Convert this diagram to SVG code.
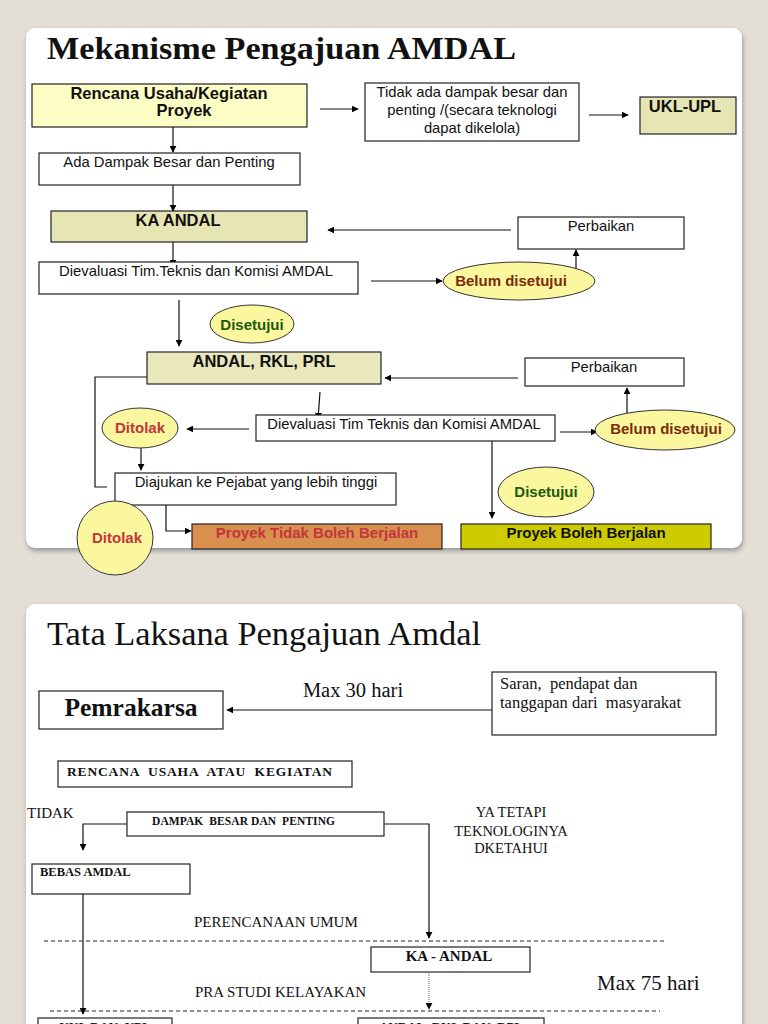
<svg xmlns="http://www.w3.org/2000/svg" width="768" height="1024" viewBox="0 0 768 1024">
<defs>
<marker id="ah" viewBox="0 0 10 10" refX="9" refY="5" markerWidth="7" markerHeight="7" orient="auto" markerUnits="userSpaceOnUse"><path d="M0,0 L10,5 L0,10 Z" fill="#000"/></marker>
<filter id="sh" x="-5%" y="-5%" width="110%" height="110%"><feGaussianBlur stdDeviation="2.5"/></filter>
<style>
.bx{stroke:#222;stroke-width:1.2;fill:#fff}
.yl{fill:#fdfdc6}
.kh{fill:#e6e6b4}
.el{fill:#faf79e;stroke:#333;stroke-width:1}
.ln{stroke:#111;stroke-width:1.2;fill:none}
.ar{stroke:#111;stroke-width:1.2;fill:none;marker-end:url(#ah)}
.s{font-family:"Liberation Sans",Arial,sans-serif;font-size:14.8px;fill:#111}
.sb{font-family:"Liberation Sans",Arial,sans-serif;font-size:16.5px;font-weight:bold;fill:#111}
.eb{font-family:"Liberation Sans",Arial,sans-serif;font-size:15px;font-weight:bold}
.r{font-family:"Liberation Serif","Times New Roman",serif;fill:#111;white-space:pre}
.rb{font-family:"Liberation Serif","Times New Roman",serif;font-weight:bold;fill:#111;white-space:pre}
.c{text-anchor:middle}
.dash{stroke:#222;stroke-width:1;stroke-dasharray:4,3;fill:none}
</style>
</defs>
<rect width="768" height="1024" fill="#e3dfd6"/>
<!-- panels -->
<rect x="27" y="31" width="716" height="520" rx="9" fill="#999" filter="url(#sh)"/>
<rect x="26" y="28" width="716" height="520" rx="9" fill="#fff"/>
<rect x="27" y="607" width="716" height="430" rx="9" fill="#999" filter="url(#sh)"/>
<rect x="26" y="604" width="716" height="430" rx="9" fill="#fff"/>

<text x="47" y="59" class="rb" font-size="32" textLength="469" lengthAdjust="spacingAndGlyphs">Mekanisme Pengajuan AMDAL</text>

<g id="connectors-top">
<line x1="173" y1="127" x2="173" y2="152" class="ar"/>
<line x1="320" y1="109" x2="358" y2="109" class="ar"/>
<line x1="589" y1="115" x2="628" y2="115" class="ar"/>
<line x1="173" y1="185" x2="173" y2="211" class="ar"/>
<line x1="173" y1="242" x2="173" y2="266" class="ar"/>
<line x1="511" y1="230" x2="328" y2="230" class="ar"/>
<line x1="371" y1="281" x2="442" y2="281" class="ar"/>
<line x1="576" y1="276" x2="576" y2="250" class="ar"/>
<line x1="179" y1="300" x2="179" y2="346" class="ar"/>
<line x1="518" y1="378" x2="385" y2="378" class="ar"/>
<line x1="320" y1="392" x2="318" y2="419" class="ar"/>
<line x1="249" y1="429" x2="187" y2="429" class="ar"/>
<line x1="141" y1="448" x2="141" y2="470" class="ar"/>
<polyline points="107,487 95,487 95,377 155,377" class="ar"/>
<polyline points="166,505 166,531 191,531" class="ar"/>
<line x1="560" y1="432" x2="597" y2="432" class="ar"/>
<line x1="627" y1="414" x2="627" y2="388" class="ar"/>
<line x1="492" y1="441" x2="492" y2="518" class="ar"/>
</g>

<g id="n-rencana"><rect x="32" y="84" width="275" height="43" class="bx yl"/><text x="169" y="99" class="sb c">Rencana Usaha/Kegiatan</text><text x="184" y="116" class="sb c">Proyek</text></g>
<g id="n-tidak"><rect x="365" y="83" width="214" height="58" class="bx"/><text x="472" y="97" class="s c">Tidak ada dampak besar dan</text><text x="472" y="115" class="s c">penting /(secara teknologi</text><text x="472" y="133" class="s c">dapat dikelola)</text></g>
<g id="n-ukl"><rect x="640" y="97" width="96" height="37" class="bx kh"/><text x="685" y="112" class="sb c" font-size="18">UKL-UPL</text></g>
<g id="n-ada"><rect x="39" y="153" width="261" height="32" class="bx"/><text x="169" y="167" class="s c">Ada Dampak Besar dan Penting</text></g>
<g id="n-ka"><rect x="51" y="211" width="256" height="31" class="bx kh"/><text x="178" y="226" class="sb c">KA ANDAL</text></g>
<g id="n-eval1"><rect x="39" y="262" width="319" height="32" class="bx"/><text x="196" y="276" class="s c">Dievaluasi Tim.Teknis dan Komisi AMDAL</text></g>
<g id="n-perb1"><rect x="518" y="217" width="166" height="32" class="bx"/><text x="601" y="231" class="s c">Perbaikan</text></g>
<g id="n-belum1"><ellipse cx="519" cy="281" rx="76" ry="19" class="el"/><text x="511" y="286" class="eb c" fill="#7a2a0c">Belum disetujui</text></g>
<g id="n-dis1"><ellipse cx="252" cy="324" rx="42" ry="19" class="el"/><text x="252" y="330" class="eb c" fill="#1d5a10">Disetujui</text></g>
<g id="n-andal"><rect x="147" y="352" width="234" height="32" class="bx" style="fill:#e8e8bc"/><text x="264" y="367" class="sb c">ANDAL, RKL, PRL</text></g>
<g id="n-perb2"><rect x="525" y="358" width="159" height="28" class="bx"/><text x="604" y="372" class="s c">Perbaikan</text></g>
<g id="n-eval2"><rect x="256" y="415" width="299" height="26" class="bx"/><text x="404" y="429" class="s c">Dievaluasi Tim Teknis dan Komisi AMDAL</text></g>
<g id="n-ditolak1"><ellipse cx="140" cy="428" rx="38" ry="20" class="el"/><text x="140" y="433" class="eb c" fill="#c2353d">Ditolak</text></g>
<g id="n-belum2"><ellipse cx="665" cy="430" rx="70" ry="20" class="el"/><text x="666" y="434" class="eb c" fill="#7a2a0c">Belum disetujui</text></g>
<g id="n-diajukan"><rect x="115" y="473" width="281" height="32" class="bx"/><text x="256" y="487" class="s c">Diajukan ke Pejabat yang lebih tinggi</text></g>
<g id="n-dis2"><ellipse cx="546" cy="492" rx="48" ry="25" class="el"/><text x="546" y="497" class="eb c" fill="#1d5a10">Disetujui</text></g>
<g id="n-tidakboleh"><rect x="192" y="524" width="250" height="25" class="bx" style="fill:#d9904f"/><text x="317" y="538" class="eb c" fill="#c2353d">Proyek Tidak Boleh Berjalan</text></g>
<g id="n-boleh"><rect x="461" y="524" width="250" height="25" class="bx" style="fill:#cccc00"/><text x="586" y="538" class="eb c" fill="#111">Proyek Boleh Berjalan</text></g>
<g id="n-ditolak2"><ellipse cx="115" cy="538" rx="38" ry="37" class="el"/><text x="117" y="543" class="eb c" fill="#c2353d">Ditolak</text></g>

<!-- bottom panel -->
<text x="47" y="645" class="r" font-size="33" textLength="434" lengthAdjust="spacingAndGlyphs">Tata Laksana Pengajuan Amdal</text>

<g id="connectors-bottom">
<line x1="492" y1="710" x2="227" y2="710" class="ar"/>
<polyline points="127,824 83,824 83,850" class="ar"/>
<polyline points="384,824 429,824 429,938" class="ar"/>
<line x1="83" y1="888" x2="83" y2="1014" class="ar"/>
<line x1="429" y1="973" x2="429" y2="1009" class="ar" style="stroke:#777;stroke-dasharray:1,1"/>
<line x1="44" y1="941" x2="666" y2="941" class="dash"/>
<line x1="50" y1="1011" x2="660" y2="1011" class="dash"/>
</g>

<text x="353" y="697" class="r c" font-size="20.5">Max 30 hari</text>
<g id="n-pemrakarsa"><rect x="39" y="691" width="184" height="38" class="bx"/><text x="131" y="716" class="rb c" font-size="25.5">Pemrakarsa</text></g>
<g id="n-saran"><rect x="492" y="672" width="224" height="63" class="bx"/><text x="500" y="689" class="r" font-size="16.5">Saran,  pendapat dan</text><text x="500" y="708" class="r" font-size="16.5">tanggapan dari  masyarakat</text></g>
<g id="n-rencana2"><rect x="58" y="761" width="294" height="26" class="bx"/><text x="67" y="776" class="rb" font-size="13.5" textLength="265">RENCANA  USAHA  ATAU  KEGIATAN</text></g>
<text x="27" y="818" class="r" font-size="15">TIDAK</text>
<g id="n-dampak"><rect x="127" y="812" width="257" height="24" class="bx"/><text x="152" y="825" class="rb" font-size="11.5" textLength="183">DAMPAK  BESAR DAN  PENTING</text></g>
<text class="r c" font-size="14.5"><tspan x="511" y="817">YA TETAPI</tspan><tspan x="511" y="836">TEKNOLOGINYA</tspan><tspan x="511" y="853">DKETAHUI</tspan></text>
<g id="n-bebas"><rect x="32" y="864" width="158" height="30" class="bx"/><text x="40" y="876" class="rb" font-size="12.5">BEBAS AMDAL</text></g>
<text x="194" y="927" class="r" font-size="15">PERENCANAAN UMUM</text>
<g id="n-kaandal"><rect x="371" y="947" width="159" height="25" class="bx"/><text x="449" y="961" class="rb c" font-size="15">KA - ANDAL</text></g>
<text x="195" y="997" class="r" font-size="15">PRA STUDI KELAYAKAN</text>
<text x="597" y="990" class="r" font-size="21">Max 75 hari</text>
<g id="n-ukl2"><rect x="38" y="1018" width="134" height="20" class="bx"/><text x="105" y="1031" class="rb c" font-size="13">UKL DAN  UPL</text></g>
<g id="n-andal2"><rect x="358" y="1018" width="186" height="20" class="bx"/><text x="451" y="1031" class="rb c" font-size="13">ANDAL, RKL DAN  RPL</text></g>
</svg>
